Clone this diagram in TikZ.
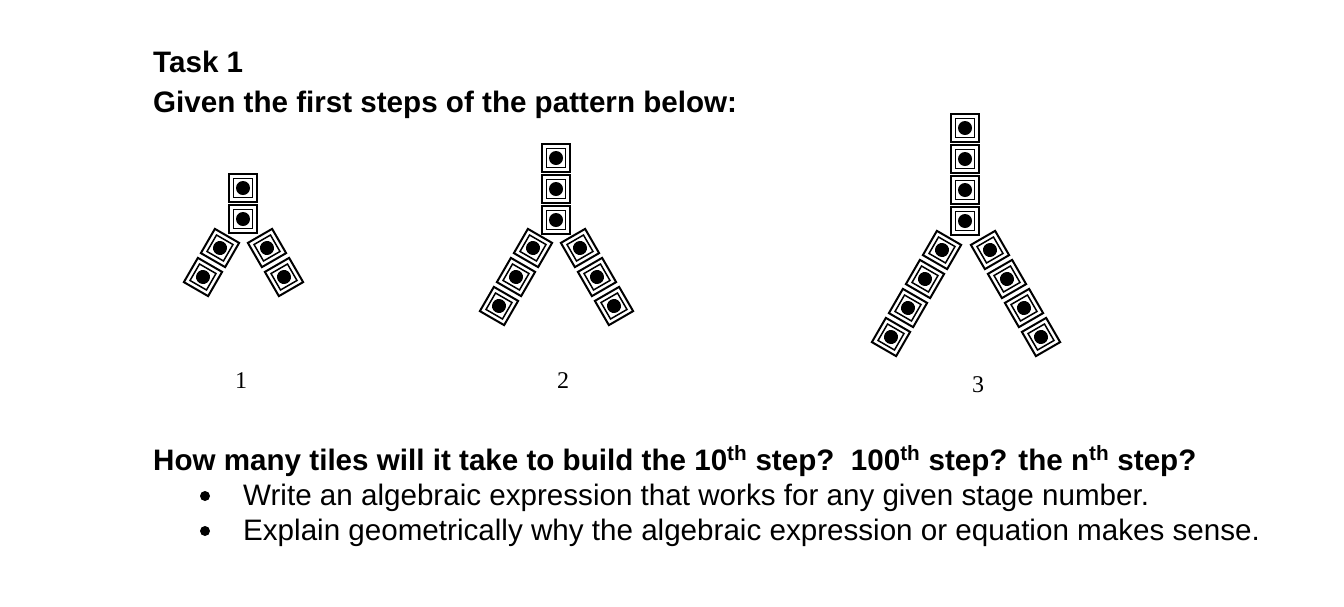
\documentclass[tikz,border=0pt]{standalone}
\usepackage{fontspec}
\setmainfont{Liberation Sans}
\newfontfamily\numfont{Liberation Serif}
\begin{document}
\begin{tikzpicture}[x=1pt,y=-1pt,
  tile/.pic={\draw[line width=2pt] (-14,-14) rectangle (14,14);
    \draw[line width=1.5pt] (-9.5,-9.5) rectangle (9.5,9.5);
    \fill (0,0) circle (7);},
  txt/.style={anchor=base west,inner sep=0,font=\fontsize{29.6}{34}\selectfont},
  btxt/.style={anchor=base west,inner sep=0,font=\fontsize{29.6}{34}\selectfont\bfseries},
  num/.style={anchor=base,inner sep=0,font=\fontsize{24}{28}\selectfont\numfont}]
\useasboundingbox (0,0) rectangle (1344,606);
\node[btxt] (t1) at (153,72) {Task 1};
\node[btxt] (t2) at (153,112) {Given the first steps of the pattern below:};
\foreach \cx/\k/\top in {243/2/188,556/3/158,965/4/128}{
  \foreach \i in {1,...,\k} \pic at (\cx,\top+31*\i-31) {tile};
}
\foreach \lx/\ly/\rx/\ry/\a in {220/248/267/248/2,533/248/580/248/3,942/250/990/250/4}{
  \foreach \i in {1,...,\a}{
    \pic[rotate=-30] at (\lx-17*\i+17,\ly+29*\i-29) {tile};
    \pic[rotate=30] at (\rx+17*\i-17,\ry+29*\i-29) {tile};
  }
}
\node[num] (n1) at (241,388) {1};
\node[num] (n2) at (563,388) {2};
\node[num] (n3) at (978,392) {3};
\node[btxt] (q) at (153,470) {How many tiles will it take to build the 10\textsuperscript{th} step?\ \ 100\textsuperscript{th} step? the n\textsuperscript{th} step?};
\fill (205,496) circle (5);
\fill (205,531) circle (5);
\node[txt] (b1) at (243,505) {Write an algebraic expression that works for any given stage number.};
\node[txt] (b2) at (243,540) {Explain geometrically why the algebraic expression or equation makes sense.};
\end{tikzpicture}
\end{document}
